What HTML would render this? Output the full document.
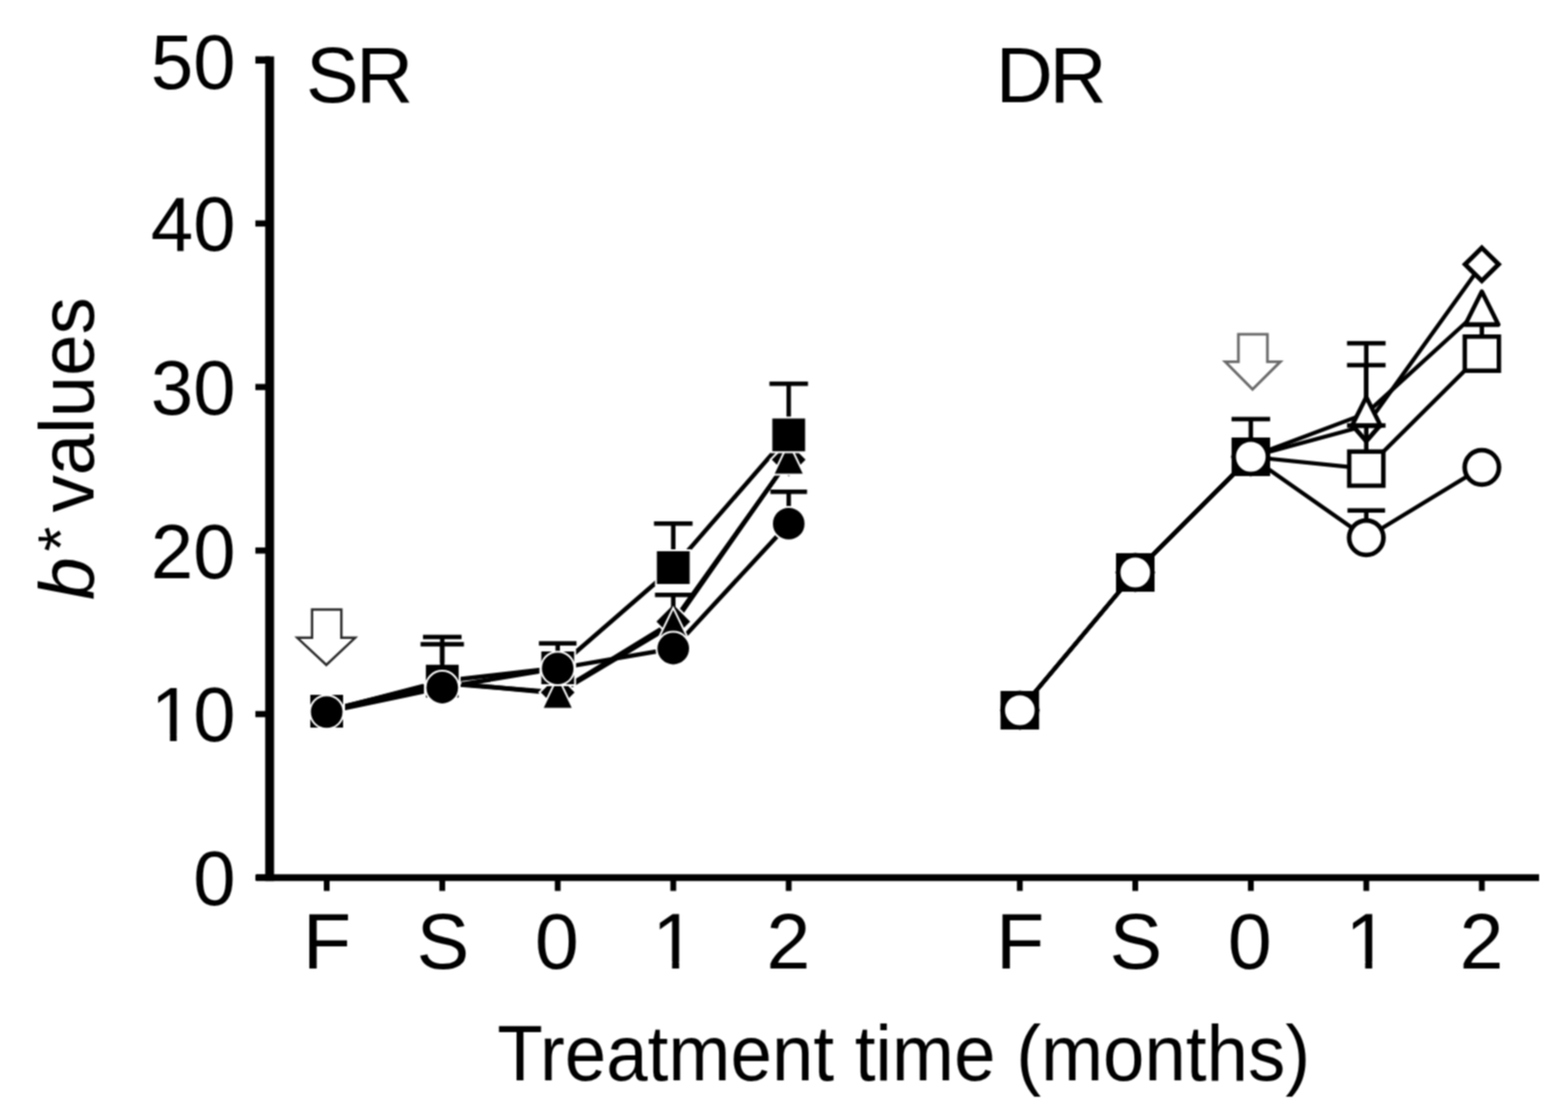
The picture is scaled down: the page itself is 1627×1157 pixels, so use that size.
<!DOCTYPE html>
<html><head><meta charset="utf-8"><title>b* values chart</title>
<style>html,body{margin:0;padding:0;background:#fff;width:1627px;height:1157px;overflow:hidden}svg{display:block}</style>
</head><body>
<svg width="1627" height="1157" viewBox="0 0 1627 1157">
<defs><filter id="soft" x="0" y="0" width="1" height="1" color-interpolation-filters="sRGB"><feConvolveMatrix order="3" kernelMatrix="1 2 1 2 4 2 1 2 1" divisor="16" edgeMode="duplicate"/></filter></defs>
<rect width="1627" height="1157" fill="#fff"/>
<g filter="url(#soft)">
<rect width="1627" height="1157" fill="#fff"/>
<defs><clipPath id="c10" clipPathUnits="userSpaceOnUse"><rect x="140" y="699.4" width="110" height="63.10"/><rect x="176.39" y="760.4" width="6.98" height="10"/><rect x="200.46" y="761.4" width="50" height="12"/></clipPath><clipPath id="c1_3" clipPathUnits="userSpaceOnUse"><rect x="659.6" y="930" width="80" height="68.07"/><rect x="697.40" y="990" width="7.25" height="20"/></clipPath><clipPath id="c1_9" clipPathUnits="userSpaceOnUse"><rect x="1378.7" y="930" width="80" height="68.07"/><rect x="1416.56" y="990" width="7.25" height="20"/></clipPath></defs>
<g fill="#000">
<rect x="275.2" y="58.5" width="9.2" height="855.7"/>
<rect x="265" y="907.5" width="15" height="6.4"/>
<rect x="265" y="737.8" width="15" height="6.4"/>
<rect x="265" y="568.1" width="15" height="6.4"/>
<rect x="265" y="398.4" width="15" height="6.4"/>
<rect x="265" y="228.7" width="15" height="6.4"/>
<rect x="265" y="58.5" width="15" height="7.5"/>
<rect x="266" y="907.2" width="1331" height="7"/>
<rect x="336.0" y="912" width="6" height="12.5"/>
<rect x="455.9" y="912" width="6" height="12.5"/>
<rect x="575.7" y="912" width="6" height="12.5"/>
<rect x="695.6" y="912" width="6" height="12.5"/>
<rect x="815.4" y="912" width="6" height="12.5"/>
<rect x="1055.2" y="912" width="6" height="12.5"/>
<rect x="1175.0" y="912" width="6" height="12.5"/>
<rect x="1294.9" y="912" width="6" height="12.5"/>
<rect x="1414.7" y="912" width="6" height="12.5"/>
<rect x="1534.6" y="912" width="6" height="12.5"/>
</g>
<g font-family="&quot;Liberation Sans&quot;, Arial, Helvetica, sans-serif" fill="#000">
<text x="244.4" y="939.1" text-anchor="end" font-size="79">0</text>
<text x="244.4" y="769.4" text-anchor="end" font-size="79" clip-path="url(#c10)">10</text>
<text x="244.4" y="599.7" text-anchor="end" font-size="79">20</text>
<text x="244.4" y="430.0" text-anchor="end" font-size="79">30</text>
<text x="244.4" y="260.3" text-anchor="end" font-size="79">40</text>
<text x="244.4" y="92.1" text-anchor="end" font-size="79">50</text>
<text x="339.3" y="1005.2" text-anchor="middle" font-size="82">F</text>
<text x="459.6" y="1005.2" text-anchor="middle" font-size="82">S</text>
<text x="577.7" y="1005.2" text-anchor="middle" font-size="82">0</text>
<text x="699.6" y="1005.2" text-anchor="middle" font-size="82" clip-path="url(#c1_3)">1</text>
<text x="818.1" y="1005.2" text-anchor="middle" font-size="82">2</text>
<text x="1058.5" y="1005.2" text-anchor="middle" font-size="82">F</text>
<text x="1178.7" y="1005.2" text-anchor="middle" font-size="82">S</text>
<text x="1296.9" y="1005.2" text-anchor="middle" font-size="82">0</text>
<text x="1418.7" y="1005.2" text-anchor="middle" font-size="82" clip-path="url(#c1_9)">1</text>
<text x="1537.3" y="1005.2" text-anchor="middle" font-size="82">2</text>
<text x="317.6 369.4" y="106.4" font-size="82">SR</text>
<text x="1033.3 1089.0" y="106.4" font-size="82">DR</text>
<text x="516.0" y="1120.7" font-size="81" textLength="843.4" lengthAdjust="spacingAndGlyphs">Treatment time (months)</text>
<text transform="translate(97,622) rotate(-90)" font-size="80"><tspan x="-0.8" y="0" font-style="italic">b</tspan><tspan x="49.7" y="-11.2" font-size="66.4">*</tspan><tspan x="68.8" y="0" textLength="244.7" lengthAdjust="spacingAndGlyphs"> values</tspan></text>
</g>
<polyline points="339.0,738.0 458.9,709.0 578.7,718.5 698.6,645.0 818.4,477.0" fill="none" stroke="#000" stroke-width="4.5" stroke-linejoin="round"/>
<polyline points="339.0,737.5 458.9,708.0 578.7,719.5 698.6,648.0 818.4,476.5" fill="none" stroke="#000" stroke-width="4.5" stroke-linejoin="round"/>
<polyline points="339.0,738.0 458.9,706.8 578.7,693.0 698.6,589.0 818.4,451.3" fill="none" stroke="#000" stroke-width="4.5" stroke-linejoin="round"/>
<polyline points="339.0,738.8 458.9,713.5 578.7,693.6 698.6,673.0 818.4,543.4" fill="none" stroke="#000" stroke-width="4.5" stroke-linejoin="round"/>
<polyline points="1058.2,737.0 1178.0,594.0 1297.9,474.0 1417.7,441.5 1537.6,274.3" fill="none" stroke="#000" stroke-width="4.2" stroke-linejoin="round"/>
<polyline points="1058.2,737.0 1178.0,594.0 1297.9,474.0 1417.7,428.9 1537.6,319.6" fill="none" stroke="#000" stroke-width="4.2" stroke-linejoin="round"/>
<polyline points="1058.2,737.0 1178.0,594.0 1297.9,474.0 1417.7,486.3 1537.6,367.0" fill="none" stroke="#000" stroke-width="4.2" stroke-linejoin="round"/>
<polyline points="1058.2,737.0 1178.0,594.0 1297.9,474.0 1417.7,558.0 1537.6,485.0" fill="none" stroke="#000" stroke-width="4.2" stroke-linejoin="round"/>
<polygon points="339.0,720.5 356.5,738.0 339.0,755.5 321.5,738.0" fill="#000" stroke="#fff" stroke-width="4" paint-order="stroke" stroke-linejoin="miter"/>
<polygon points="458.9,691.5 476.4,709.0 458.9,726.5 441.4,709.0" fill="#000" stroke="#fff" stroke-width="4" paint-order="stroke" stroke-linejoin="miter"/>
<polygon points="578.7,701.0 596.2,718.5 578.7,736.0 561.2,718.5" fill="#000" stroke="#fff" stroke-width="4" paint-order="stroke" stroke-linejoin="miter"/>
<polygon points="698.6,627.5 716.1,645.0 698.6,662.5 681.1,645.0" fill="#000" stroke="#fff" stroke-width="4" paint-order="stroke" stroke-linejoin="miter"/>
<polygon points="818.4,459.5 835.9,477.0 818.4,494.5 800.9,477.0" fill="#000" stroke="#fff" stroke-width="4" paint-order="stroke" stroke-linejoin="miter"/>
<rect x="696.3" y="617.3" width="4.6" height="30.7" fill="#000"/><rect x="679.6" y="615.0" width="38" height="4.6" fill="#000"/>
<polygon points="339.0,722.5 353.5,752.5 324.5,752.5" fill="#000" stroke="#fff" stroke-width="4" paint-order="stroke" stroke-linejoin="miter"/>
<polygon points="458.9,693.0 473.4,723.0 444.4,723.0" fill="#000" stroke="#fff" stroke-width="4" paint-order="stroke" stroke-linejoin="miter"/>
<polygon points="578.7,704.5 593.2,734.5 564.2,734.5" fill="#000" stroke="#fff" stroke-width="4" paint-order="stroke" stroke-linejoin="miter"/>
<polygon points="698.6,633.0 713.1,663.0 684.1,663.0" fill="#000" stroke="#fff" stroke-width="4" paint-order="stroke" stroke-linejoin="miter"/>
<polygon points="818.4,461.5 832.9,491.5 803.9,491.5" fill="#000" stroke="#fff" stroke-width="4" paint-order="stroke" stroke-linejoin="miter"/>
<rect x="456.6" y="661.0" width="4.6" height="45.8" fill="#000"/><rect x="438.9" y="658.7" width="40" height="4.6" fill="#000"/>
<rect x="696.3" y="543.3" width="4.6" height="45.7" fill="#000"/><rect x="678.6" y="541.0" width="40" height="4.6" fill="#000"/>
<rect x="816.1" y="398.2" width="4.6" height="53.1" fill="#000"/><rect x="798.4" y="395.9" width="40" height="4.6" fill="#000"/>
<rect x="322.0" y="721.0" width="34.0" height="34.0" fill="#000" stroke="#fff" stroke-width="4" paint-order="stroke" stroke-linejoin="miter"/>
<rect x="441.9" y="689.8" width="34.0" height="34.0" fill="#000" stroke="#fff" stroke-width="4" paint-order="stroke" stroke-linejoin="miter"/>
<rect x="561.7" y="676.0" width="34.0" height="34.0" fill="#000" stroke="#fff" stroke-width="4" paint-order="stroke" stroke-linejoin="miter"/>
<rect x="681.6" y="572.0" width="34.0" height="34.0" fill="#000" stroke="#fff" stroke-width="4" paint-order="stroke" stroke-linejoin="miter"/>
<rect x="801.4" y="434.3" width="34.0" height="34.0" fill="#000" stroke="#fff" stroke-width="4" paint-order="stroke" stroke-linejoin="miter"/>
<rect x="456.6" y="668.5" width="4.6" height="45.0" fill="#000"/><rect x="436.4" y="666.2" width="45" height="4.6" fill="#000"/>
<rect x="576.4" y="667.6" width="4.6" height="26.0" fill="#000"/><rect x="559.2" y="665.3" width="39" height="4.6" fill="#000"/>
<rect x="816.1" y="510.3" width="4.6" height="33.1" fill="#000"/><rect x="799.4" y="508.0" width="38" height="4.6" fill="#000"/>
<circle cx="339.0" cy="738.8" r="16.4" fill="#000" stroke="#fff" stroke-width="4" paint-order="stroke" stroke-linejoin="miter"/>
<circle cx="458.9" cy="713.5" r="16.4" fill="#000" stroke="#fff" stroke-width="4" paint-order="stroke" stroke-linejoin="miter"/>
<circle cx="578.7" cy="693.6" r="16.4" fill="#000" stroke="#fff" stroke-width="4" paint-order="stroke" stroke-linejoin="miter"/>
<circle cx="698.6" cy="673.0" r="16.4" fill="#000" stroke="#fff" stroke-width="4" paint-order="stroke" stroke-linejoin="miter"/>
<circle cx="818.4" cy="543.4" r="16.4" fill="#000" stroke="#fff" stroke-width="4" paint-order="stroke" stroke-linejoin="miter"/>
<rect x="1415.4" y="356.2" width="4.6" height="85.3" fill="#000"/><rect x="1397.7" y="353.9" width="40" height="4.6" fill="#000"/>
<polygon points="1058.2,719.8 1075.6,737.0 1058.2,754.2 1040.8,737.0" fill="#fff" stroke="#000" stroke-width="4.8" stroke-linejoin="miter"/>
<polygon points="1178.0,576.8 1195.4,594.0 1178.0,611.2 1160.6,594.0" fill="#fff" stroke="#000" stroke-width="4.8" stroke-linejoin="miter"/>
<polygon points="1297.9,456.8 1315.3,474.0 1297.9,491.2 1280.5,474.0" fill="#fff" stroke="#000" stroke-width="4.8" stroke-linejoin="miter"/>
<polygon points="1417.7,425.2 1431.9,441.5 1417.7,457.8 1403.5,441.5" fill="#fff" stroke="#000" stroke-width="4.8" stroke-linejoin="miter"/>
<polygon points="1537.6,257.1 1555.0,274.3 1537.6,291.5 1520.2,274.3" fill="#fff" stroke="#000" stroke-width="4.8" stroke-linejoin="miter"/>
<rect x="1415.4" y="378.9" width="4.6" height="50.0" fill="#000"/><rect x="1397.7" y="376.6" width="40" height="4.6" fill="#000"/>
<polygon points="1058.2,719.9 1075.3,754.1 1041.1,754.1" fill="#fff" stroke="#000" stroke-width="4.5" stroke-linejoin="round"/>
<polygon points="1178.0,576.9 1195.1,611.1 1160.9,611.1" fill="#fff" stroke="#000" stroke-width="4.5" stroke-linejoin="round"/>
<polygon points="1297.9,456.9 1315.0,491.1 1280.8,491.1" fill="#fff" stroke="#000" stroke-width="4.5" stroke-linejoin="round"/>
<polygon points="1417.7,412.0 1432.7,442.0 1402.7,442.0" fill="#fff" stroke="#000" stroke-width="4.5" stroke-linejoin="round"/>
<polygon points="1537.6,302.5 1554.7,336.8 1520.5,336.8" fill="#fff" stroke="#000" stroke-width="4.5" stroke-linejoin="round"/>
<rect x="1415.4" y="441.5" width="4.6" height="44.8" fill="#000"/><rect x="1397.7" y="439.2" width="40" height="4.6" fill="#000"/>
<rect x="1535.3" y="337.0" width="4.6" height="30.0" fill="#000"/><rect x="1519.6" y="334.7" width="36" height="4.6" fill="#000"/>
<rect x="1040.5" y="719.3" width="35.4" height="35.4" fill="#fff" stroke="#000" stroke-width="4.6" stroke-linejoin="miter"/>
<rect x="1160.3" y="576.3" width="35.4" height="35.4" fill="#fff" stroke="#000" stroke-width="4.6" stroke-linejoin="miter"/>
<rect x="1280.2" y="456.3" width="35.4" height="35.4" fill="#fff" stroke="#000" stroke-width="4.6" stroke-linejoin="miter"/>
<rect x="1400.0" y="468.6" width="35.4" height="35.4" fill="#fff" stroke="#000" stroke-width="4.6" stroke-linejoin="miter"/>
<rect x="1519.9" y="349.3" width="35.4" height="35.4" fill="#fff" stroke="#000" stroke-width="4.6" stroke-linejoin="miter"/>
<rect x="1295.6" y="434.9" width="4.6" height="39.1" fill="#000"/><rect x="1277.9" y="432.6" width="40" height="4.6" fill="#000"/>
<rect x="1415.4" y="529.7" width="4.6" height="28.3" fill="#000"/><rect x="1398.2" y="527.4" width="39" height="4.6" fill="#000"/>
<rect x="1039.2" y="718.0" width="38" height="38" fill="#000"/>
<circle cx="1058.2" cy="737.0" r="17.8" fill="#fff" stroke="#000" stroke-width="4.8" stroke-linejoin="miter"/>
<rect x="1159.0" y="575.0" width="38" height="38" fill="#000"/>
<circle cx="1178.0" cy="594.0" r="17.8" fill="#fff" stroke="#000" stroke-width="4.8" stroke-linejoin="miter"/>
<rect x="1278.9" y="455.0" width="38" height="38" fill="#000"/>
<circle cx="1297.9" cy="474.0" r="17.8" fill="#fff" stroke="#000" stroke-width="4.8" stroke-linejoin="miter"/>
<circle cx="1417.7" cy="558.0" r="17.8" fill="#fff" stroke="#000" stroke-width="4.8" stroke-linejoin="miter"/>
<circle cx="1537.6" cy="485.0" r="17.8" fill="#fff" stroke="#000" stroke-width="4.8" stroke-linejoin="miter"/>
<polygon points="323.8,632.5 354.2,632.5 354.2,661.8 368.5,661.8 338.6,690.0 308.5,661.8 323.8,661.8" fill="#fff" stroke="#2a2a2a" stroke-width="2.5" stroke-linejoin="miter"/>
<polygon points="1285,346.8 1315.1,346.8 1315.1,375.3 1328.6,375.3 1299.7,404.0 1271.2,375.3 1285,375.3" fill="#fff" stroke="#6a6a6a" stroke-width="2.8" stroke-linejoin="miter"/>
</g>
</svg>
</body></html>
